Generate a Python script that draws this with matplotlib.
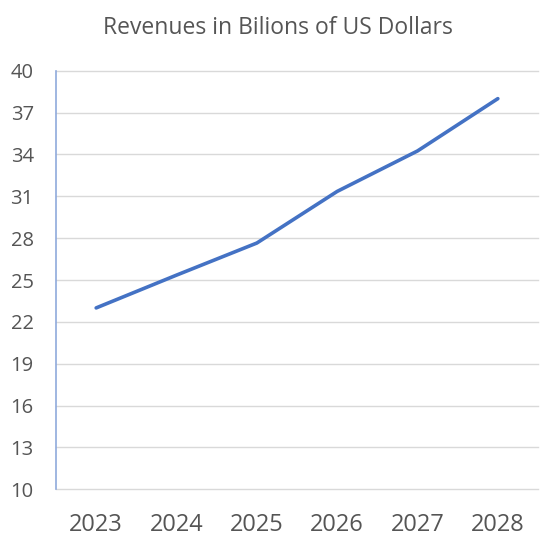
import matplotlib
matplotlib.use("Agg")
import matplotlib.pyplot as plt

years = ["2023", "2024", "2025", "2026", "2027", "2028"]
revenues = [23.0, 25.35, 27.65, 31.35, 34.25, 38.0]
yticks = [10, 13, 16, 19, 22, 25, 28, 31, 34, 37, 40]
title = "Revenues in Bilions of US Dollars"

plt.rcParams['font.family'] = ['Open Sans', 'DejaVu Sans']

fig = plt.figure(figsize=(5.55, 5.47), dpi=100)
ax = fig.add_axes([0.1009, 0.1055, 0.8685, 0.7652])

x = list(range(len(years)))
ax.plot(x, revenues, color="#4472C4", linewidth=2.6, solid_capstyle="round", solid_joinstyle="round", zorder=3)

ax.set_xlim(-0.5, len(years) - 0.5)
ax.set_ylim(10, 40)
ax.set_yticks(yticks)
ax.set_yticklabels([str(t) for t in yticks], fontsize=14.5, color="#555555")
ax.set_xticks(x)
ax.set_xticklabels(years, fontsize=17, color="#555555")

for t in yticks:
    ax.axhline(t, color="#D9D9D9", linewidth=1.0, zorder=1, clip_on=False)
for s in ["top", "right", "bottom"]:
    ax.spines[s].set_visible(False)
ax.spines["left"].set_color("#8FAADC")
ax.spines["left"].set_linewidth(1.2)
ax.spines["left"].set_zorder(2)
ax.tick_params(axis="both", length=0)
ax.tick_params(axis="y", pad=16)
ax.tick_params(axis="x", pad=17)

fig.text(0.5, 1 - 28 / 547, title, ha="center", va="center", fontsize=16.5, color="#555555")

fig.savefig("out.png", dpi=100, facecolor="white")
